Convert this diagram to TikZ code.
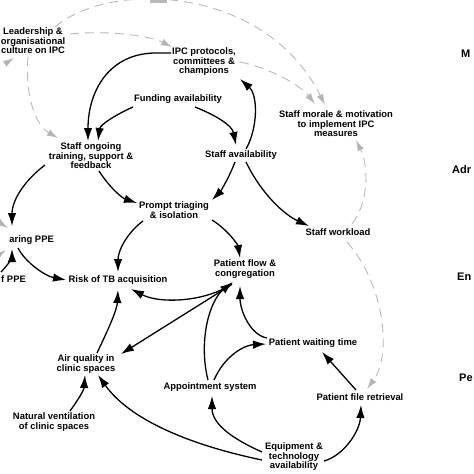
\documentclass[tikz,border=0pt]{standalone}
\usepackage{fontspec}
\setmainfont{Liberation Sans}
\usetikzlibrary{arrows.meta,calc}
\tikzset{
  lbl/.style={font=\bfseries\fontsize{9.4}{9.5}\selectfont, align=center, inner sep=1pt},
  side/.style={font=\bfseries\fontsize{11}{12}\selectfont, inner sep=0pt, anchor=west},
  link/.style={line width=1.3pt, black, -{Latex[length=13pt,width=8.5pt]}},
  glink/.style={line width=0.9pt, gray!55, dash pattern=on 9pt off 6pt, -{Latex[length=11pt,width=7pt,fill=gray!60]}},
}
\begin{document}
\begin{tikzpicture}[x=1pt,y=-1pt]
\useasboundingbox (0,0) rectangle (474,474);
\clip (0,0) rectangle (474,474);
\fill[white] (0,0) rectangle (474,474);

% nodes
\node[lbl] (lead) at (33,41) {Leadership \&\\organisational\\culture on IPC};
\node[lbl] (ipc) at (204,62) {IPC protocols,\\committees \&\\champions};
\node[lbl] (fund) at (178,99) {Funding availability};
\node[lbl] (train) at (91,156) {Staff ongoing\\training, support \&\\feedback};
\node[lbl] (savail) at (241,155) {Staff availability};
\node[lbl] (morale) at (336,124) {Staff morale \& motivation\\to implement IPC\\measures};
\node[lbl] (workload) at (338,232) {Staff workload};
\node[lbl] (triage) at (174,210) {Prompt triaging\\\& isolation};
\node[lbl, anchor=east] (ppe) at (55,240) {aring PPE};
\node[lbl, anchor=east] (fppe) at (27,279) {f PPE};
\node[lbl] (risk) at (118,280) {Risk of TB acquisition};
\node[lbl] (flow) at (245,269) {Patient flow \&\\congregation};
\node[lbl] (wait) at (313,343) {Patient waiting time};
\node[lbl] (appt) at (210,387) {Appointment system};
\node[lbl] (file) at (360,397) {Patient file retrieval};
\node[lbl] (air) at (86,364) {Air quality in\\clinic spaces};
\node[lbl] (vent) at (54,422) {Natural ventilation\\of clinic spaces};
\node[lbl] (equip) at (294,457) {Equipment \&\\technology\\availability};

\node[side] (sM) at (461,54) {M};
\node[side] (sA) at (452,170) {Adr};
\node[side] (sE) at (457,277) {En};
\node[side] (sP) at (459,378) {Pe};

% gray dashed links
\fill[gray!55] (150,0) rectangle (167,3);
\draw[glink] ($(lead)+(37,-7)$) .. controls (110,30) and (150,36) .. ($(ipc)+(-32,-15)$);
\draw[glink] ($(lead)+(-5,16)$) .. controls (25,95) and (35,125) .. ($(train)+(-33,-18)$);
\draw[glink] ($(lead)+(22,-14)$) .. controls (110,-20) and (265,-15) .. ($(morale)+(-11,-19)$);
\draw[glink] ($(ipc)+(36,0)$) .. controls (270,68) and (300,85) .. ($(morale)+(-21,-20)$);
\draw[glink] ($(workload)+(14,-8)$) .. controls (370,200) and (368,165) .. ($(morale)+(20,16)$);
\draw[glink] ($(workload)+(9,10)$) .. controls (385,285) and (392,355) .. ($(file)+(7,-8)$);
\coordinate (gl1) at (-8,72);
\draw[glink] (gl1) -- ($(lead)+(-19,17)$);
\coordinate (gp1) at (-14,214);
\coordinate (gp2) at (-14,264);
\draw[glink] (gp1) -- ($(ppe.east)+(-47,-12)$);
\draw[glink] (gp2) -- ($(ppe.east)+(-49,10)$);

% black links
\draw[link] ($(ipc)+(-33,-9)$) -- ++(-15,0) .. controls (110,53) and (88,90) .. ($(train)+(-3,-15)$);
\draw[link] ($(fund)+(-45,8)$) .. controls (115,115) and (100,125) .. ($(train)+(7,-15)$);
\draw[link] ($(fund)+(17,8)$) .. controls (215,115) and (232,125) .. ($(savail)+(-5,-10)$);
\draw[link] ($(savail)+(5,-6)$) .. controls (258,128) and (258,95) .. ($(ipc)+(36,17)$);
\draw[link] ($(savail)+(5,7)$) .. controls (262,195) and (285,215) .. ($(workload)+(-29,-6)$);
\draw[link] ($(savail)+(-6,7)$) .. controls (228,180) and (220,192) .. ($(triage)+(38,-10)$);
\draw[link] ($(train)+(8,15)$) .. controls (110,188) and (122,198) .. ($(triage)+(-37,-7)$);
\draw[link] ($(train)+(-46,9)$) .. controls (25,180) and (12,200) .. ($(ppe.east)+(-43,-14)$);
\draw[link] ($(ppe.east)+(-37,8)$) .. controls (25,262) and (45,276) .. ($(risk)+(-52,0)$);
\draw[link] ($(fppe.east)+(-26,-7)$) .. controls (8,265) and (12,257) .. ($(ppe.east)+(-43,9)$);
\draw[link] ($(triage)+(-31,11)$) .. controls (128,232) and (118,250) .. ($(risk)+(0,-8)$);
\draw[link] ($(triage)+(38,10)$) .. controls (228,230) and (238,245) .. ($(flow)+(-5,-11)$);
\draw[link] ($(flow)+(-13,15)$) .. controls (205,302) and (160,304) .. ($(risk)+(13,9)$);
\draw[link] ($(flow)+(-14,16)$) -- ($(air)+(35,-10)$);
\draw[link] ($(appt)+(-2,-7)$) .. controls (198,340) and (210,300) .. ($(flow)+(-12,13)$);
\draw[link] ($(wait)+(-46,-5)$) .. controls (250,335) and (240,310) .. ($(flow)+(-5,17)$);
\draw[link] ($(appt)+(4,-7)$) .. controls (225,355) and (245,345) .. ($(wait)+(-47,1)$);
\draw[link] ($(air)+(11,-11)$) .. controls (108,330) and (117,310) .. ($(risk)+(0,10)$);
\draw[link] ($(vent)+(16,-11)$) .. controls (78,400) and (84,390) .. ($(air)+(-1,11)$);
\draw[link] ($(equip)+(-32,3)$) .. controls (190,445) and (130,420) .. ($(air)+(12,11)$);
\draw[link] ($(equip)+(-32,-5)$) .. controls (235,440) and (212,425) .. ($(appt)+(2,9)$);
\draw[link] ($(equip)+(30,4)$) .. controls (345,455) and (360,430) .. ($(file)+(1,8)$);
\draw[link] ($(file)+(-4,-7)$) -- ($(wait)+(9,9)$);
\end{tikzpicture}
\end{document}
